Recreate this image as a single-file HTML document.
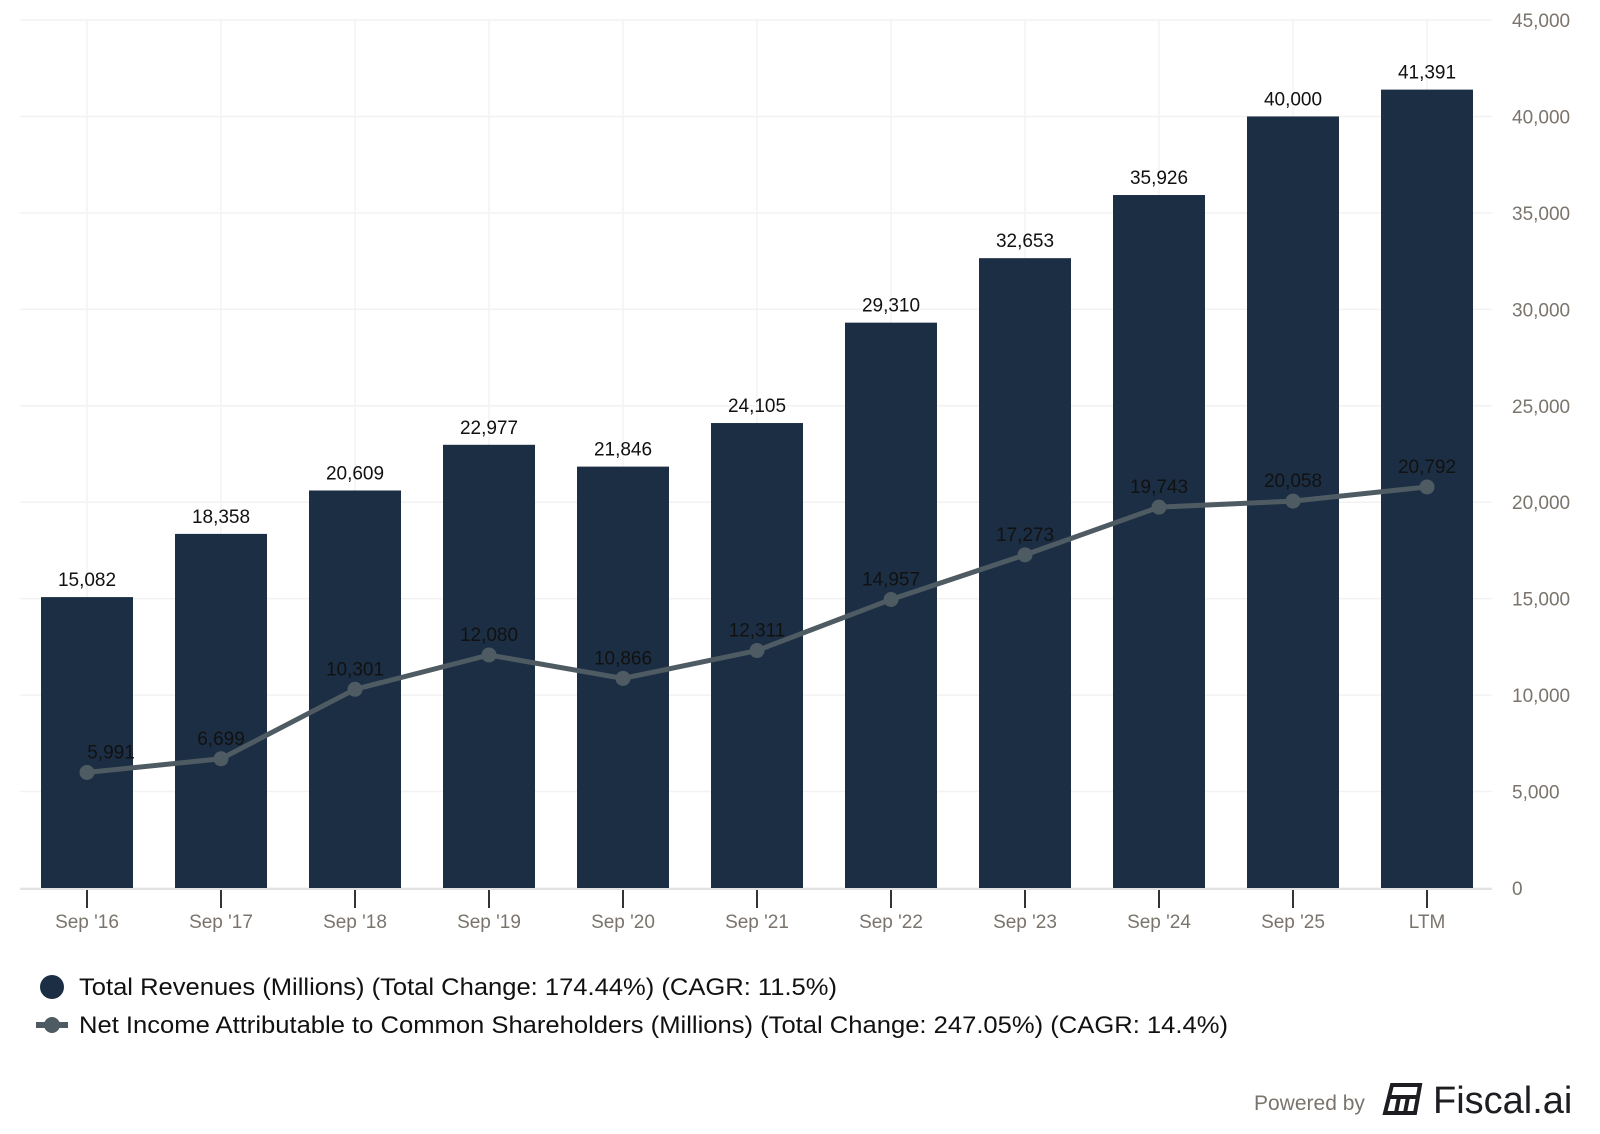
<!DOCTYPE html>
<html><head><meta charset="utf-8">
<style>
body{margin:0;background:#fff;width:1600px;height:1134px;overflow:hidden;font-family:"Liberation Sans",Arial,sans-serif;}
svg{display:block}
</style></head>
<body>
<svg id="chart" width="1600" height="1134" viewBox="0 0 1600 1134" xmlns="http://www.w3.org/2000/svg" font-family="Liberation Sans, Arial, sans-serif">
<g id="grid"></g><g id="bars"></g><g id="line"></g><g id="axes"></g>
<g>
 <g>
  <circle cx="52" cy="987" r="12" fill="#1c2e44"/>
  <text x="79" y="995" font-size="24" fill="#111" textLength="758" lengthAdjust="spacingAndGlyphs">Total Revenues (Millions) (Total Change: 174.44%) (CAGR: 11.5%)</text>
 </g>
 <g>
  <line x1="36" y1="1025" x2="68" y2="1025" stroke="#4f5b63" stroke-width="6"/>
  <circle cx="52" cy="1025" r="8" fill="#4f5b63"/>
  <text x="79" y="1033" font-size="24" fill="#111" textLength="1149" lengthAdjust="spacingAndGlyphs">Net Income Attributable to Common Shareholders (Millions) (Total Change: 247.05%) (CAGR: 14.4%)</text>
 </g>
</g>
<g>
 <text x="1254" y="1110" font-size="21" fill="#7a746d">Powered by</text>
 <g fill="none" stroke="#1d1d22" stroke-width="4">
  <path d="M1392 1085 h28 l-5 28 h-30 z"/>
  <path d="M1389 1097 h28 M1399 1097 l-3 16 M1408 1097 l-3 16"/>
 </g>
 <text x="1433" y="1113" font-size="38" fill="#1d1d22">Fiscal.ai</text>
</g>
</svg>
<script>
const categories=["Sep '16","Sep '17","Sep '18","Sep '19","Sep '20","Sep '21","Sep '22","Sep '23","Sep '24","Sep '25","LTM"];
const revenues=[15082,18358,20609,22977,21846,24105,29310,32653,35926,40000,41391];
const netIncome=[5991,6699,10301,12080,10866,12311,14957,17273,19743,20058,20792];
const yTicks=[0,5000,10000,15000,20000,25000,30000,35000,40000,45000];
const NS="http://www.w3.org/2000/svg";
const x0=87,step=134,base=888,top0=20,ymax=45000;
const xs=i=>x0+i*step;
const ys=v=>base-v*(base-top0)/ymax;
const fmt=v=>v.toLocaleString('en-US');
function mk(tag,attrs,parent,text){const e=document.createElementNS(NS,tag);for(const k in attrs)e.setAttribute(k,attrs[k]);if(text!==undefined)e.textContent=text;parent.appendChild(e);return e;}
const g=document.getElementById('grid'),b=document.getElementById('bars'),l=document.getElementById('line'),a=document.getElementById('axes');
yTicks.forEach(t=>{
 const gl=mk('line',{x1:20,x2:1492,y1:ys(t),y2:ys(t),stroke:'#f2f2f2','stroke-width':1.5},g);
 
 
 const tl=mk('text',{x:1512,y:ys(t)+7,'font-size':19,fill:'#7a746d'},a,fmt(t));
 
 
});
categories.forEach((c,i)=>{
 const vg=mk('line',{x1:xs(i),x2:xs(i),y1:top0,y2:base,stroke:'#f4f4f4','stroke-width':1.5},g);
 
 
 const r=mk('rect',{x:xs(i)-46,y:ys(revenues[i]),width:92,height:base-ys(revenues[i]),fill:'#1c2e44'},b);
 
 
 const bl=mk('text',{x:xs(i),y:ys(revenues[i])-11,'font-size':19,fill:'#111','text-anchor':'middle'},b,fmt(revenues[i]));
 
 
 const tk=mk('line',{x1:xs(i),x2:xs(i),y1:890,y2:908,stroke:'#333','stroke-width':2},a);
 
 
 const xl=mk('text',{x:xs(i),y:928,'font-size':19,fill:'#7a746d','text-anchor':'middle'},a,c);
 
 
});
const ax=mk('line',{x1:20,x2:1492,y1:889,y2:889,stroke:'#e2e2e2','stroke-width':2},a);


const pts=netIncome.map((v,i)=>xs(i)+','+ys(v)).join(' ');
const pl=mk('polyline',{points:pts,fill:'none',stroke:'#4f5b63','stroke-width':5,'stroke-linejoin':'round'},l);


netIncome.forEach((v,i)=>{
 const c=mk('circle',{cx:xs(i),cy:ys(v),r:7.5,fill:'#4f5b63'},l);
 
 
 const t=mk('text',{x:i===0?xs(i)+24:xs(i),y:ys(v)-14,'font-size':19,fill:'#111','text-anchor':'middle'},l,fmt(v));
 
 
});
</script>
</body></html>
